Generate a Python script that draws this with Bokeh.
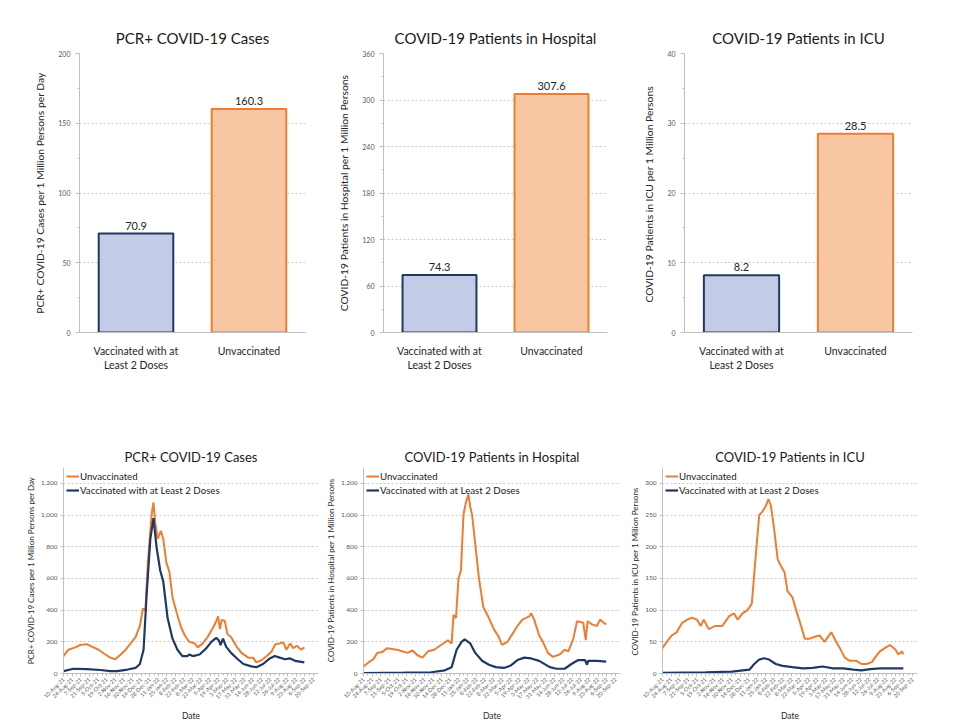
import pandas as pd
from bokeh.plotting import figure
from bokeh.layouts import row, column
from bokeh.models import (FixedTicker, SingleIntervalTicker, NumeralTickFormatter,
                          Legend, Range1d, Spacer, ColumnDataSource)
from bokeh.embed import file_html
from bokeh.resources import INLINE
from bokeh.core.properties import value

FONT = "Lato"
ORANGE = "#ED7D31"
NAVY = "#1F3864"
BLUE_FILL = "#C3CBE6"
ORANGE_FILL = "#F9C6A4"
GRID = "#C8C8C8"
AXIS = "#BFBFBF"
TICKTXT = "#595959"

# ---------------- bar chart data ----------------
groups = ["Vaccinated with at\nLeast 2 Doses", "Unvaccinated"]
cases_bar = [70.9, 160.3]
hosp_bar = [74.3, 307.6]
icu_bar = [8.2, 28.5]

# ---------------- time series data ----------------
start_date = "10-Aug-21"
tick_labels = ["10-Aug-21", "24-Aug-21", "7-Sep-21", "21-Sep-21", "5-Oct-21", "19-Oct-21",
               "2-Nov-21", "16-Nov-21", "30-Nov-21", "14-Dec-21", "28-Dec-21", "11-Jan-22",
               "25-Jan-22", "8-Feb-22", "22-Feb-22", "8-Mar-22", "22-Mar-22", "5-Apr-22",
               "19-Apr-22", "3-May-22", "17-May-22", "31-May-22", "14-Jun-22", "28-Jun-22",
               "12-Jul-22", "26-Jul-22", "9-Aug-22", "23-Aug-22", "6-Sep-22", "20-Sep-22"]
axis_end_date = "28-Sep-22"

# days after 10-Aug-21
cases_unvax_day = [0, 8, 19, 27, 38, 46, 57, 68, 76, 84, 93, 101, 109, 117, 124, 129, 133, 137, 143, 146,
                   149, 153, 158, 162, 167, 172, 177, 184, 191, 197, 204, 213, 218, 226, 234, 243, 248, 251, 254, 257,
                   262, 266, 272, 281, 289, 300, 308, 313, 322, 330, 338, 344, 351, 357, 362, 368, 373, 379, 386, 391]
cases_unvax = [110, 150, 165, 180, 185, 170, 150, 120, 100, 90, 120, 150, 190, 230, 300, 410, 400, 700, 1000, 1080,
               950, 850, 900, 850, 700, 640, 480, 380, 290, 240, 200, 190, 165, 190, 230, 290, 330, 360, 280, 340,
               330, 250, 230, 170, 130, 100, 100, 70, 85, 110, 140, 185, 190, 195, 150, 190, 160, 175, 150, 165]
cases_vax_day = [0, 16, 38, 60, 76, 87, 104, 117, 124, 130, 135, 141, 146, 151, 157, 162, 169, 177, 185, 193,
                 201, 204, 210, 221, 232, 240, 248, 252, 255, 259, 264, 272, 283, 292, 305, 313, 324, 335, 343, 351,
                 360, 368, 376, 391]
cases_vax = [15, 30, 28, 22, 15, 15, 25, 35, 60, 150, 500, 850, 980, 800, 650, 580, 350, 220, 150, 110,
             110, 120, 110, 120, 160, 200, 225, 210, 180, 220, 170, 130, 90, 60, 45, 40, 60, 95, 110, 100,
             90, 95, 80, 70]

hosp_unvax_day = [0, 8, 16, 22, 30, 38, 54, 71, 79, 87, 95, 104, 114, 125, 136, 142, 145, 149, 153, 157,
                  161, 165, 169, 172, 175, 181, 186, 193, 202, 210, 218, 223, 232, 240, 248, 256, 267, 270, 275, 283,
                  289, 297, 305, 316, 324, 330, 338, 344, 354, 358, 361, 368, 376, 381, 387, 391]
hosp_unvax = [45, 70, 90, 130, 135, 160, 150, 130, 145, 115, 100, 140, 150, 180, 210, 190, 370, 350, 600, 650,
              1000, 1080, 1130, 1050, 1000, 780, 600, 420, 350, 280, 230, 180, 200, 250, 300, 340, 360, 380, 340, 240,
              200, 130, 105, 120, 150, 140, 220, 330, 320, 210, 330, 310, 300, 340, 320, 310]
hosp_vax_day = [0, 65, 109, 131, 142, 150, 158, 163, 172, 180, 191, 202, 213, 226, 237, 248, 259, 270, 283, 300,
                311, 324, 335, 346, 357, 360, 362, 376, 391]
hosp_vax = [3, 5, 8, 20, 40, 150, 200, 215, 190, 130, 80, 55, 40, 35, 50, 85, 100, 95, 80, 40,
            30, 30, 60, 85, 85, 55, 80, 80, 75]

icu_unvax_day = [0, 7, 15, 23, 32, 40, 48, 56, 62, 67, 75, 86, 97, 108, 116, 122, 130, 138, 145, 150,
                 157, 162, 168, 172, 176, 181, 187, 192, 198, 203, 211, 217, 225, 231, 239, 247, 255, 263, 274, 282,
                 288, 296, 304, 315, 323, 331, 340, 345, 353, 361, 369, 378, 383, 389, 391]
icu_unvax = [40, 50, 60, 65, 80, 85, 88, 85, 75, 85, 70, 75, 75, 90, 95, 85, 95, 100, 110, 170,
             250, 255, 265, 275, 265, 230, 180, 170, 160, 130, 120, 100, 75, 55, 55, 58, 60, 50, 65, 50,
             40, 25, 20, 20, 15, 15, 18, 25, 35, 40, 45, 38, 30, 35, 30]
icu_vax_day = [0, 70, 113, 141, 149, 157, 165, 173, 184, 195, 211, 228, 244, 260, 277, 293, 310, 323, 337, 353,
               369, 391]
icu_vax = [1, 2, 3, 6, 15, 22, 24, 22, 15, 12, 10, 8, 9, 11, 8, 8, 6, 5, 7, 8,
           8, 8]

# ---------------- helpers ----------------
t0 = pd.to_datetime(start_date, format="%d-%b-%y")
tick_pos = [int((pd.to_datetime(s, format="%d-%b-%y") - t0).days) for s in tick_labels]
minor_pos = [a + (b - a) // 2 for a, b in zip(tick_pos[:-1], tick_pos[1:])]
x_end = int((pd.to_datetime(axis_end_date, format="%d-%b-%y") - t0).days)


def style_common(p):
    p.outline_line_color = None
    p.background_fill_color = "white"
    p.border_fill_color = "white"
    p.title.align = "center"
    p.title.text_font = FONT
    p.title.text_font_style = "normal"
    p.title.text_color = "#1A1A1A"
    for ax in (p.xaxis[0], p.yaxis[0]):
        ax.major_label_text_font = FONT
        ax.axis_label_text_font = FONT
        ax.axis_label_text_font_style = "normal"
        ax.axis_label_text_color = "#262626"
        ax.major_label_text_color = TICKTXT
        ax.axis_line_color = AXIS
        ax.major_tick_line_color = AXIS
        ax.minor_tick_line_color = AXIS
    p.xgrid.grid_line_color = None
    p.ygrid.grid_line_color = GRID
    p.ygrid.grid_line_dash = "2 2"


def bar_chart(title, ylabel, vals, ymax, ystep, width, bl, br):
    p = figure(x_range=groups, y_range=Range1d(0, ymax), width=width, height=375,
               output_backend="svg", toolbar_location=None, title=title,
               min_border_left=bl, min_border_right=br, min_border_top=53, min_border_bottom=43)
    src = ColumnDataSource(dict(cat=groups, val=vals,
                                fill=[BLUE_FILL, ORANGE_FILL], edge=[NAVY, ORANGE],
                                lbl=[f"{v:.1f}" for v in vals]))
    p.vbar(x="cat", top="val", width=0.66, fill_color="fill", line_color="edge",
           line_width=2, source=src)
    p.text(x="cat", y="val", text="lbl", source=src, text_align="center",
           text_baseline="bottom", y_offset=-4, text_font=value(FONT),
           text_font_size="11px", text_color="#262626")
    style_common(p)
    p.title.text_font_size = "15px"
    p.title.standoff = 14
    p.yaxis[0].ticker = SingleIntervalTicker(interval=ystep, num_minor_ticks=2)
    p.yaxis[0].axis_label = ylabel
    p.yaxis[0].axis_label_text_font_size = "10.3px"
    p.yaxis[0].major_label_text_font_size = "7px"
    p.yaxis[0].axis_label_standoff = 9
    p.yaxis[0].major_tick_out = 4
    p.yaxis[0].major_tick_in = 0
    p.yaxis[0].minor_tick_out = 2
    p.yaxis[0].minor_tick_in = 0
    p.xaxis[0].major_label_text_font_size = "10.5px"
    p.xaxis[0].major_label_text_color = "#262626"
    p.xaxis[0].major_tick_line_color = None
    p.xaxis[0].major_label_standoff = 6
    return p


def line_chart(title, ylabel, ud, uv, vd, vv, ymax, ystep, width, bl, br):
    p = figure(x_range=Range1d(0, x_end), y_range=Range1d(0, ymax), width=width, height=286,
               output_backend="svg", toolbar_location=None, title=title,
               min_border_left=bl, min_border_right=br, min_border_top=27, min_border_bottom=53)
    r1 = p.line(ud, uv, line_color=ORANGE, line_width=2)
    r2 = p.line(vd, vv, line_color=NAVY, line_width=2.2)
    style_common(p)
    p.title.text_font_size = "13px"
    p.title.standoff = 6
    xa = p.xaxis[0]
    xa.ticker = FixedTicker(ticks=tick_pos, minor_ticks=minor_pos)
    xa.major_label_overrides = {t: s for t, s in zip(tick_pos, tick_labels)}
    xa.major_label_orientation = 0.785
    xa.major_label_text_font_size = "5.5px"
    xa.major_label_standoff = 2
    xa.major_tick_out = 3
    xa.major_tick_in = 0
    xa.minor_tick_out = 2
    xa.minor_tick_in = 0
    xa.axis_label = "Date"
    xa.axis_label_text_font_size = "8.5px"
    xa.axis_label_standoff = 6
    ya = p.yaxis[0]
    ya.ticker = SingleIntervalTicker(interval=ystep, num_minor_ticks=0)
    ya.formatter = NumeralTickFormatter(format="0,0")
    ya.major_label_text_font_size = "6.5px"
    ya.axis_label = ylabel
    ya.axis_label_text_font_size = "8px"
    ya.axis_label_standoff = 2
    ya.major_tick_out = 3
    ya.major_tick_in = 0
    ya.major_label_standoff = 3
    legend = Legend(items=[("Unvaccinated", [r1]), ("Vaccinated with at Least 2 Doses", [r2])],
                    location="top_left")
    legend.label_text_font = FONT
    legend.label_text_font_size = "9.7px"
    legend.label_text_color = "#1A1A1A"
    legend.glyph_width = 13
    legend.glyph_height = 10
    legend.label_standoff = 1
    legend.label_height = 10
    legend.spacing = 2
    legend.padding = 0
    legend.margin = 3
    legend.background_fill_alpha = 0
    legend.border_line_alpha = 0
    p.add_layout(legend)
    return p


p1 = bar_chart("PCR+ COVID-19 Cases", "PCR+ COVID-19 Cases per 1 Million Persons per Day",
               cases_bar, 200, 50, 320, 79, 15)
p2 = bar_chart("COVID-19 Patients in Hospital", "COVID-19 Patients in Hospital per 1 Million Persons",
               hosp_bar, 360, 60, 312, 63, 25)
p3 = bar_chart("COVID-19 Patients in ICU", "COVID-19 Patients in ICU  per 1 Million Persons",
               icu_bar, 40, 10, 313, 52, 33)

p4 = line_chart("PCR+ COVID-19 Cases", "PCR+ COVID-19 Cases per 1 Million Persons per Day",
                cases_unvax_day, cases_unvax, cases_vax_day, cases_vax, 1300, 200, 320, 63, 2)
p5 = line_chart("COVID-19 Patients in Hospital", "COVID-19 Patients in Hospital per 1 Million Persons",
                hosp_unvax_day, hosp_unvax, hosp_vax_day, hosp_vax, 1300, 200, 307, 43, 7)
p6 = line_chart("COVID-19 Patients in ICU", "COVID-19 Patients in ICU  per 1 Million Persons",
                icu_unvax_day, icu_unvax, icu_vax_day, icu_vax, 325, 50, 318, 34, 28)

layout = column(row(p1, p2, p3), Spacer(height=65), row(p4, p5, p6))

open("out.html", "w").write(file_html(layout, INLINE))
